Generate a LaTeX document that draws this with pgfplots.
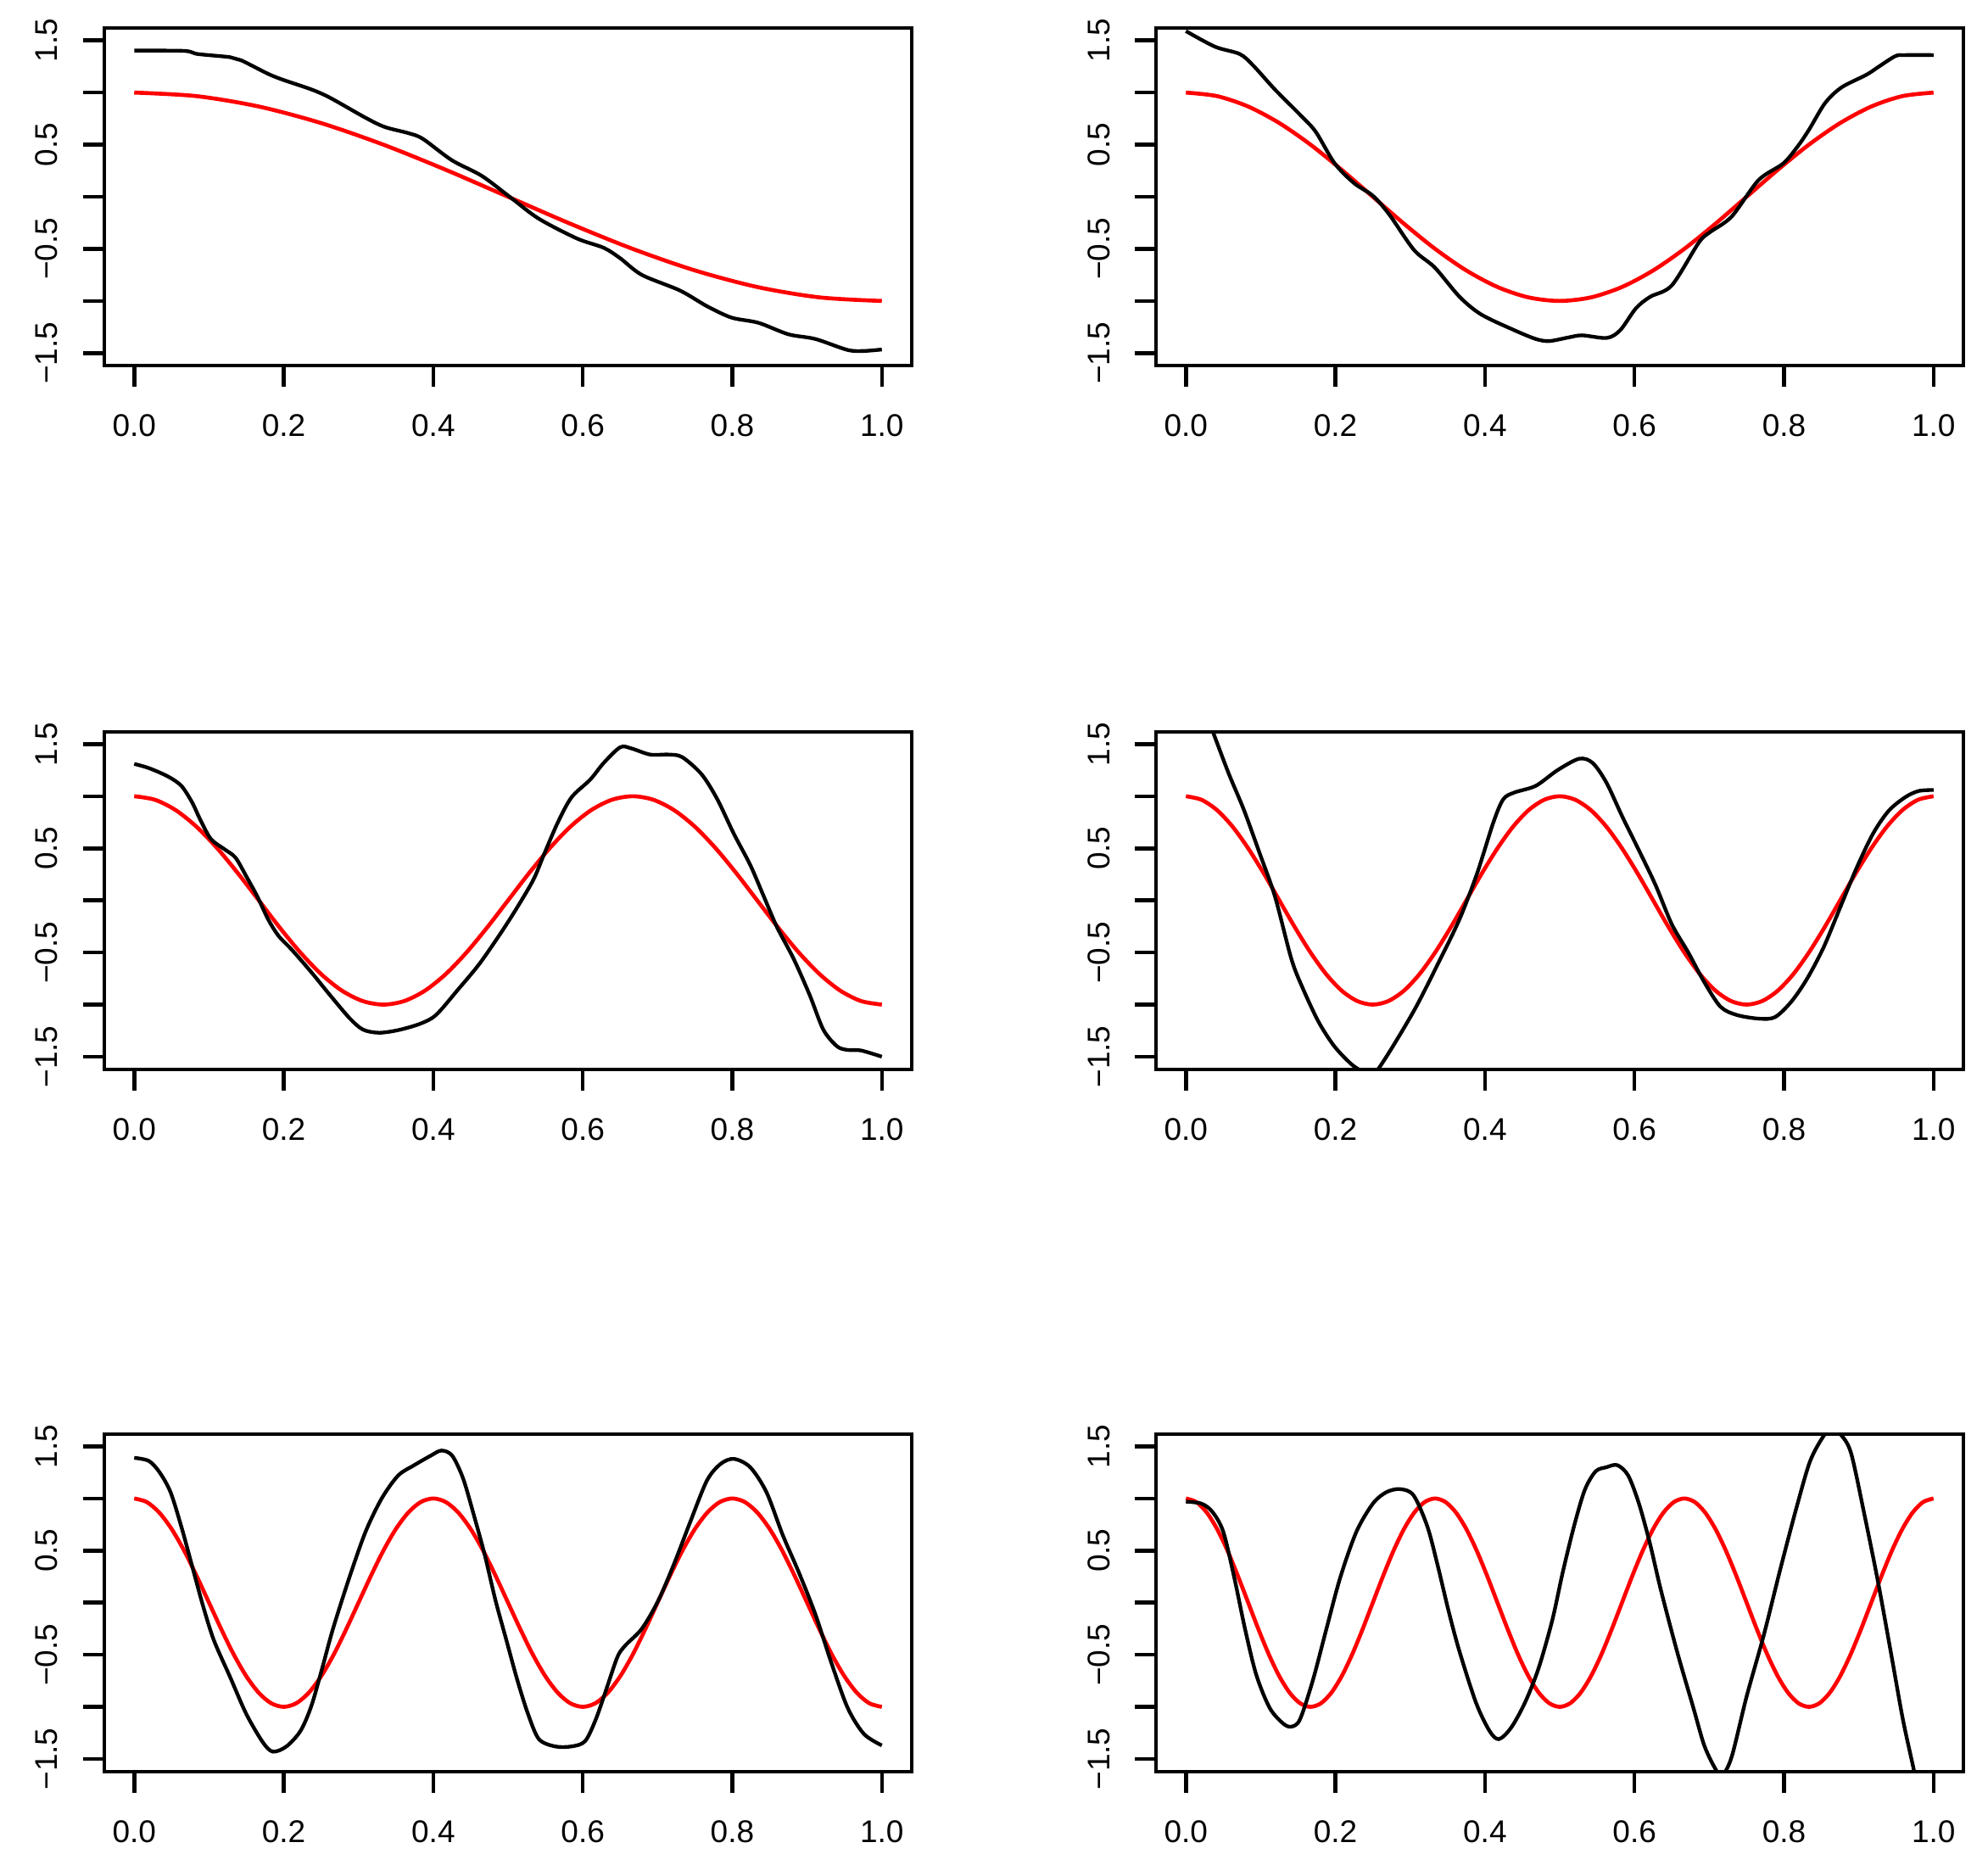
\documentclass[border=0pt]{standalone}
\usepackage{fontspec}
\setmainfont{Liberation Sans}
\usepackage{pgfplots}
\pgfplotsset{compat=1.18}
\definecolor{rred}{RGB}{255,0,0}
\pgfplotsset{
  rpanel/.style={
    scale only axis, width=285.6pt, height=119.4pt,
    anchor=north west,
    xmin=-0.04, xmax=1.04, ymin=-1.62, ymax=1.62,
    axis line style={line width=1.2pt, line cap=rect},
    xtick={0,0.2,0.4,0.6,0.8,1},
    xticklabels={0.0,0.2,0.4,0.6,0.8,1.0},
    ytick={-1.5,-1,-0.5,0,0.5,1,1.5},
    yticklabels={−1.5,,−0.5,,0.5,,1.5},
    xtick pos=bottom, ytick pos=left,
    tick align=outside, major tick length=7.5pt,
    major tick style={line width=1.35pt, black},
    xticklabel style={anchor=north, inner sep=0pt, font=\fontsize{11.1}{13.3}\selectfont},
    yticklabel style={rotate=90, anchor=base, inner sep=0pt, font=\fontsize{11.1}{13.3}\selectfont},
    xticklabel shift=9.7pt,
    yticklabel shift=9pt,
  },
  redc/.style={draw=rred, line width=1.4pt, smooth, mark=none},
  blkc/.style={draw=black, line width=1.3pt, smooth, mark=none},
}
\begin{document}
\begin{tikzpicture}
\path[use as bounding box] (0,0) rectangle (703.2pt,-663.3pt);
% ---------- panel 1
\begin{axis}[rpanel, at={(36.9pt,-9.9pt)}]
\addplot[redc] coordinates {(0,1)(0.0833,0.9659)(0.1667,0.8660)(0.25,0.7071)(0.3333,0.5)(0.4167,0.2588)(0.5,0)(0.5833,-0.2588)(0.6667,-0.5)(0.75,-0.7071)(0.8333,-0.8660)(0.9167,-0.9659)(1,-1)};
\addplot[blkc] coordinates {(0,1.403)(0.067,1.40)(0.085,1.37)(0.128,1.34)(0.143,1.31)(0.179,1.18)(0.2,1.12)(0.237,1.03)(0.262,0.95)(0.309,0.76)(0.335,0.67)(0.367,0.61)(0.386,0.556)(0.425,0.35)(0.465,0.20)(0.505,-0.016)(0.541,-0.21)(0.592,-0.40)(0.628,-0.49)(0.65,-0.59)(0.679,-0.75)(0.73,-0.90)(0.766,-1.05)(0.799,-1.16)(0.835,-1.21)(0.875,-1.32)(0.911,-1.365)(0.954,-1.47)(0.976,-1.48)(1,-1.466)};
\end{axis}
% ---------- panel 2
\begin{axis}[rpanel, at={(408.9pt,-9.9pt)}]
\addplot[redc] coordinates {(0,1)(0.0417,0.9659)(0.0833,0.8660)(0.125,0.7071)(0.1667,0.5)(0.2083,0.2588)(0.25,0)(0.2917,-0.2588)(0.3333,-0.5)(0.375,-0.7071)(0.4167,-0.8660)(0.4583,-0.9659)(0.5,-1)(0.5417,-0.9659)(0.5833,-0.8660)(0.625,-0.7071)(0.6667,-0.5)(0.7083,-0.2588)(0.75,0)(0.7917,0.2588)(0.8333,0.5)(0.875,0.7071)(0.9167,0.8660)(0.9583,0.9659)(1,1)};
\addplot[blkc] coordinates {(0,1.59)(0.039,1.44)(0.072,1.37)(0.09,1.26)(0.119,1.03)(0.155,0.77)(0.174,0.62)(0.199,0.32)(0.225,0.13)(0.25,0.01)(0.272,-0.17)(0.305,-0.51)(0.333,-0.68)(0.366,-0.96)(0.395,-1.13)(0.439,-1.28)(0.468,-1.365)(0.486,-1.385)(0.512,-1.35)(0.53,-1.33)(0.563,-1.355)(0.581,-1.28)(0.602,-1.07)(0.621,-0.96)(0.65,-0.85)(0.686,-0.44)(0.701,-0.34)(0.73,-0.19)(0.766,0.16)(0.799,0.32)(0.819,0.49)(0.834,0.65)(0.855,0.90)(0.877,1.05)(0.91,1.17)(0.927,1.25)(0.949,1.35)(0.962,1.36)(1,1.36)};
\end{axis}
% ---------- panel 3
\begin{axis}[rpanel, at={(36.9pt,-258.8pt)}]
\addplot[redc] coordinates {(0,1)(0.0278,0.9659)(0.0556,0.8660)(0.0833,0.7071)(0.1111,0.5)(0.1389,0.2588)(0.1667,0)(0.1944,-0.2588)(0.2222,-0.5)(0.25,-0.7071)(0.2778,-0.8660)(0.3056,-0.9659)(0.3333,-1)(0.3611,-0.9659)(0.3889,-0.8660)(0.4167,-0.7071)(0.4444,-0.5)(0.4722,-0.2588)(0.5,0)(0.5278,0.2588)(0.5556,0.5)(0.5833,0.7071)(0.6111,0.8660)(0.6389,0.9659)(0.6667,1)(0.6944,0.9659)(0.7222,0.8660)(0.75,0.7071)(0.7778,0.5)(0.8056,0.2588)(0.8333,0)(0.8611,-0.2588)(0.8889,-0.5)(0.9167,-0.7071)(0.9444,-0.8660)(0.9722,-0.9659)(1,-1)};
\addplot[blkc] coordinates {(0,1.31)(0.0196,1.27)(0.045,1.19)(0.063,1.10)(0.0775,0.94)(0.088,0.78)(0.1025,0.59)(0.121,0.49)(0.1355,0.41)(0.15,0.23)(0.1645,0.04)(0.179,-0.18)(0.193,-0.34)(0.2116,-0.48)(0.237,-0.69)(0.262,-0.91)(0.288,-1.13)(0.306,-1.24)(0.3275,-1.27)(0.353,-1.245)(0.382,-1.185)(0.4036,-1.10)(0.4326,-0.86)(0.4616,-0.61)(0.4906,-0.31)(0.512,-0.07)(0.534,0.20)(0.5486,0.45)(0.5667,0.75)(0.585,0.99)(0.61,1.16)(0.628,1.32)(0.65,1.47)(0.6645,1.46)(0.69,1.40)(0.715,1.40)(0.733,1.375)(0.759,1.21)(0.78,0.97)(0.802,0.64)(0.824,0.34)(0.842,0.04)(0.86,-0.26)(0.882,-0.56)(0.9036,-0.91)(0.9217,-1.24)(0.94,-1.40)(0.954,-1.435)(0.972,-1.44)(1,-1.50)};
\end{axis}
% ---------- panel 4
\begin{axis}[rpanel, at={(408.9pt,-258.8pt)}]
\addplot[redc] coordinates {(0,1)(0.0208,0.9659)(0.0417,0.8660)(0.0625,0.7071)(0.0833,0.5)(0.1042,0.2588)(0.125,0)(0.1458,-0.2588)(0.1667,-0.5)(0.1875,-0.7071)(0.2083,-0.8660)(0.2292,-0.9659)(0.25,-1)(0.2708,-0.9659)(0.2917,-0.8660)(0.3125,-0.7071)(0.3333,-0.5)(0.3542,-0.2588)(0.375,0)(0.3958,0.2588)(0.4167,0.5)(0.4375,0.7071)(0.4583,0.8660)(0.4792,0.9659)(0.5,1)(0.5208,0.9659)(0.5417,0.8660)(0.5625,0.7071)(0.5833,0.5)(0.6042,0.2588)(0.625,0)(0.6458,-0.2588)(0.6667,-0.5)(0.6875,-0.7071)(0.7083,-0.8660)(0.7292,-0.9659)(0.75,-1)(0.7708,-0.9659)(0.7917,-0.8660)(0.8125,-0.7071)(0.8333,-0.5)(0.8542,-0.2588)(0.875,0)(0.8958,0.2588)(0.9167,0.5)(0.9375,0.7071)(0.9583,0.8660)(0.9792,0.9659)(1,1)};
\addplot[blkc] coordinates {(0,2.25)(0.02,1.93)(0.036,1.62)(0.0574,1.215)(0.0775,0.87)(0.0985,0.455)(0.119,0.04)(0.141,-0.56)(0.1555,-0.83)(0.177,-1.16)(0.1985,-1.40)(0.221,-1.57)(0.2355,-1.64)(0.2464,-1.68)(0.257,-1.62)(0.279,-1.375)(0.308,-1.02)(0.337,-0.61)(0.366,-0.18)(0.3895,0.26)(0.4113,0.75)(0.4244,0.97)(0.439,1.035)(0.468,1.10)(0.497,1.25)(0.526,1.36)(0.544,1.32)(0.5625,1.13)(0.584,0.80)(0.606,0.48)(0.628,0.15)(0.65,-0.23)(0.672,-0.50)(0.693,-0.78)(0.715,-1.02)(0.737,-1.10)(0.7667,-1.135)(0.788,-1.12)(0.81,-0.97)(0.831,-0.75)(0.853,-0.45)(0.875,-0.07)(0.897,0.31)(0.919,0.64)(0.94,0.86)(0.962,0.99)(0.98,1.05)(1,1.06)};
\end{axis}
% ---------- panel 5
\begin{axis}[rpanel, at={(36.9pt,-507.2pt)}]
\addplot[redc] coordinates {(0,1)(0.0167,0.9659)(0.0333,0.8660)(0.05,0.7071)(0.0667,0.5)(0.0833,0.2588)(0.1,0)(0.1167,-0.2588)(0.1333,-0.5)(0.15,-0.7071)(0.1667,-0.8660)(0.1833,-0.9659)(0.2,-1)(0.2167,-0.9659)(0.2333,-0.8660)(0.25,-0.7071)(0.2667,-0.5)(0.2833,-0.2588)(0.3,0)(0.3167,0.2588)(0.3333,0.5)(0.35,0.7071)(0.3667,0.8660)(0.3833,0.9659)(0.4,1)(0.4167,0.9659)(0.4333,0.8660)(0.45,0.7071)(0.4667,0.5)(0.4833,0.2588)(0.5,0)(0.5167,-0.2588)(0.5333,-0.5)(0.55,-0.7071)(0.5667,-0.8660)(0.5833,-0.9659)(0.6,-1)(0.6167,-0.9659)(0.6333,-0.8660)(0.65,-0.7071)(0.6667,-0.5)(0.6833,-0.2588)(0.7,0)(0.7167,0.2588)(0.7333,0.5)(0.75,0.7071)(0.7667,0.8660)(0.7833,0.9659)(0.8,1)(0.8167,0.9659)(0.8333,0.8660)(0.85,0.7071)(0.8667,0.5)(0.8833,0.2588)(0.9,0)(0.9167,-0.2588)(0.9333,-0.5)(0.95,-0.7071)(0.9667,-0.8660)(0.9833,-0.9659)(1,-1)};
\addplot[blkc] coordinates {(0,1.39)(0.0196,1.36)(0.034,1.25)(0.0486,1.06)(0.063,0.73)(0.0775,0.35)(0.092,-0.03)(0.1065,-0.36)(0.128,-0.71)(0.15,-1.07)(0.172,-1.34)(0.1855,-1.43)(0.2036,-1.38)(0.2225,-1.23)(0.237,-0.99)(0.2514,-0.63)(0.2659,-0.25)(0.2877,0.24)(0.3094,0.68)(0.331,1.00)(0.353,1.22)(0.3746,1.32)(0.3964,1.41)(0.411,1.46)(0.4254,1.41)(0.44,1.19)(0.4543,0.84)(0.4688,0.46)(0.4833,0.02)(0.4978,-0.36)(0.5123,-0.74)(0.5268,-1.07)(0.5413,-1.31)(0.563,-1.38)(0.5848,-1.38)(0.603,-1.33)(0.6174,-1.12)(0.632,-0.82)(0.6464,-0.52)(0.657,-0.41)(0.679,-0.25)(0.701,0.02)(0.7225,0.38)(0.744,0.78)(0.7659,1.17)(0.784,1.33)(0.802,1.38)(0.8239,1.30)(0.8457,1.06)(0.8674,0.65)(0.889,0.29)(0.911,-0.11)(0.9326,-0.58)(0.9543,-1.01)(0.976,-1.26)(1,-1.37)};
\end{axis}
% ---------- panel 6
\begin{axis}[rpanel, at={(408.9pt,-507.2pt)}]
\addplot[redc] coordinates {(0,1)(0.0139,0.9659)(0.0278,0.8660)(0.0417,0.7071)(0.0556,0.5)(0.0694,0.2588)(0.0833,0)(0.0972,-0.2588)(0.1111,-0.5)(0.125,-0.7071)(0.1389,-0.8660)(0.1528,-0.9659)(0.1667,-1)(0.1806,-0.9659)(0.1944,-0.8660)(0.2083,-0.7071)(0.2222,-0.5)(0.2361,-0.2588)(0.25,0)(0.2639,0.2588)(0.2778,0.5)(0.2917,0.7071)(0.3056,0.8660)(0.3194,0.9659)(0.3333,1)(0.3472,0.9659)(0.3611,0.8660)(0.375,0.7071)(0.3889,0.5)(0.4028,0.2588)(0.4167,0)(0.4306,-0.2588)(0.4444,-0.5)(0.4583,-0.7071)(0.4722,-0.8660)(0.4861,-0.9659)(0.5,-1)(0.5139,-0.9659)(0.5278,-0.8660)(0.5417,-0.7071)(0.5556,-0.5)(0.5694,-0.2588)(0.5833,0)(0.5972,0.2588)(0.6111,0.5)(0.625,0.7071)(0.6389,0.8660)(0.6528,0.9659)(0.6667,1)(0.6806,0.9659)(0.6944,0.8660)(0.7083,0.7071)(0.7222,0.5)(0.7361,0.2588)(0.75,0)(0.7639,-0.2588)(0.7778,-0.5)(0.7917,-0.7071)(0.8056,-0.8660)(0.8194,-0.9659)(0.8333,-1)(0.8472,-0.9659)(0.8611,-0.8660)(0.875,-0.7071)(0.8889,-0.5)(0.9028,-0.2588)(0.9167,0)(0.9306,0.2588)(0.9444,0.5)(0.9583,0.7071)(0.9722,0.8660)(0.9861,0.9659)(1,1)};
\addplot[blkc] coordinates {(0,0.97)(0.021,0.95)(0.0356,0.87)(0.05,0.68)(0.0647,0.24)(0.079,-0.25)(0.094,-0.69)(0.112,-1.01)(0.13,-1.16)(0.141,-1.19)(0.1526,-1.12)(0.17,-0.74)(0.188,-0.25)(0.2064,0.24)(0.228,0.68)(0.25,0.95)(0.268,1.06)(0.2863,1.09)(0.3045,1.03)(0.323,0.73)(0.337,0.35)(0.3517,-0.09)(0.366,-0.47)(0.388,-0.96)(0.406,-1.23)(0.4186,-1.31)(0.435,-1.20)(0.4535,-0.96)(0.4717,-0.63)(0.49,-0.17)(0.504,0.29)(0.519,0.73)(0.5334,1.08)(0.548,1.26)(0.5625,1.30)(0.577,1.32)(0.5916,1.22)(0.606,0.95)(0.6206,0.57)(0.635,0.13)(0.657,-0.47)(0.6788,-1.01)(0.6933,-1.37)(0.7078,-1.59)(0.717,-1.66)(0.73,-1.48)(0.75,-0.90)(0.773,-0.31)(0.795,0.32)(0.817,0.92)(0.835,1.36)(0.853,1.60)(0.864,1.67)(0.875,1.62)(0.8895,1.44)(0.9077,0.84)(0.926,0.19)(0.944,-0.52)(0.959,-1.12)(0.9738,-1.61)(0.985,-2.0)(1,-2.5)};
\end{axis}
\end{tikzpicture}
\end{document}
